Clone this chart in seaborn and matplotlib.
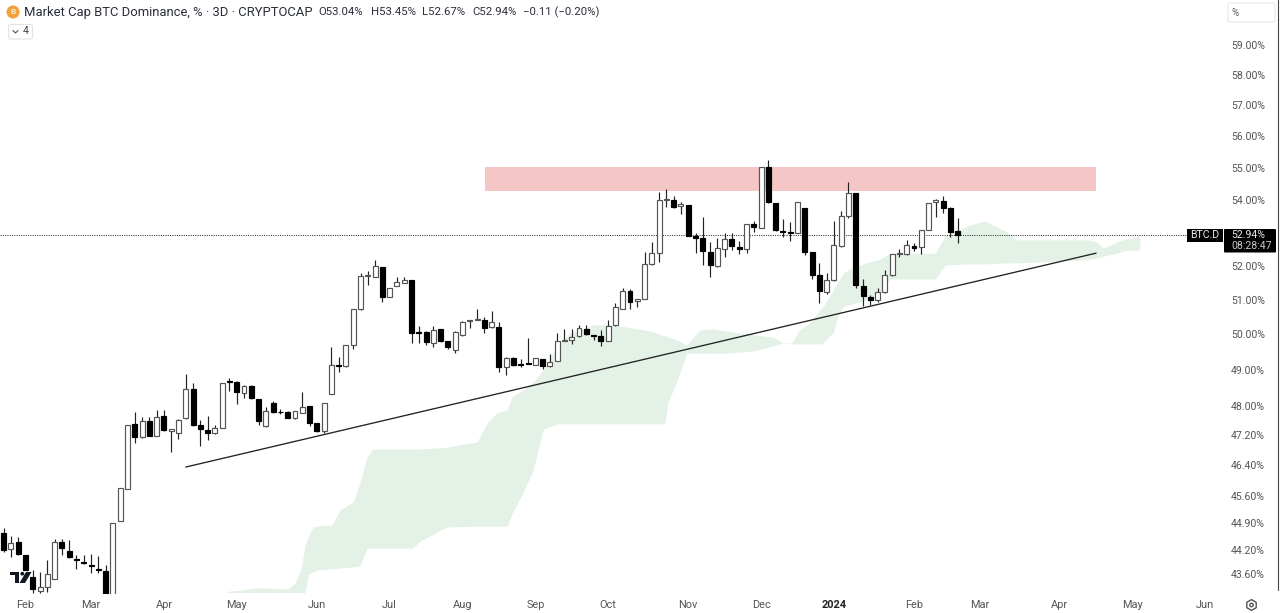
import matplotlib
matplotlib.use("Agg")
import matplotlib.pyplot as plt
import matplotlib.transforms as mtrans
from matplotlib.patches import Rectangle, FancyBboxPatch, Circle, RegularPolygon, Polygon
from matplotlib.ticker import NullLocator, FixedLocator, FixedFormatter
import numpy as np
import pandas as pd
import seaborn as sns

opens = [44.63,44.24,44.40,44.07,43.53,43.19,43.27,43.47,44.40,44.17,43.98,43.89,43.83,43.72,43.67,42.96,44.93,45.76,47.51,47.14,47.59,47.19,47.72,47.32,47.25,
         47.66,48.46,47.48,47.33,47.25,47.41,48.68,48.67,48.36,48.55,48.19,47.45,48.07,47.84,47.84,47.66,47.81,47.99,47.52,47.31,48.33,49.14,49.11,49.71,50.72,
         51.69,51.68,51.98,51.07,51.41,51.50,51.58,50.07,50.07,49.77,50.15,49.80,49.57,49.99,50.38,50.43,50.43,50.22,50.21,49.09,49.33,49.16,49.19,49.14,49.30,
         49.11,49.26,49.82,49.84,49.96,50.16,49.99,49.96,49.81,50.26,50.74,51.25,50.97,51.03,52.05,52.37,53.99,53.99,53.81,53.84,52.90,52.83,52.42,52.00,52.51,
         52.80,52.57,52.51,53.25,53.15,55.01,53.91,53.05,53.03,53.00,53.75,52.41,51.72,51.24,51.58,52.59,53.50,54.20,51.41,51.09,50.99,51.24,51.72,52.34,52.35,
         52.59,52.55,53.07,53.94,53.98,53.75,53.04]
highs = [44.77,44.57,44.54,44.07,43.70,43.66,43.95,44.47,44.48,44.46,44.08,44.08,44.10,44.04,43.83,44.90,45.79,47.47,47.84,47.69,47.69,47.89,47.89,47.38,47.63,
         48.88,48.64,47.61,47.72,47.48,48.64,48.76,48.69,48.58,48.57,48.20,47.98,48.14,47.91,47.86,47.86,48.37,48.01,47.54,48.09,49.65,49.37,49.71,50.74,51.80,
         51.86,52.18,51.98,51.36,51.66,51.66,51.58,50.24,50.10,50.24,50.15,49.80,50.10,50.38,50.43,50.73,50.51,50.68,50.37,49.35,49.35,49.29,49.89,49.32,49.31,
         49.45,50.03,50.15,50.16,50.27,50.27,49.99,50.13,50.42,50.90,51.36,51.31,51.02,52.42,52.71,54.23,54.33,54.12,53.94,53.84,52.98,53.48,52.71,52.83,53.00,
         52.98,52.75,53.26,53.35,55.01,55.25,53.91,53.40,53.33,53.92,53.75,52.41,52.08,51.78,53.36,53.66,54.54,54.20,51.60,51.14,51.36,51.88,52.35,52.49,52.78,
         52.69,53.08,53.91,54.02,54.13,53.77,53.45]
lows = [44.16,44.02,44.08,43.70,43.12,43.12,43.16,43.47,44.08,43.99,43.72,43.85,43.62,43.62,42.96,42.96,44.93,45.76,47.00,47.12,47.18,47.18,47.32,46.76,47.09,
        47.65,47.46,46.91,47.07,47.24,47.41,48.42,48.04,48.21,48.19,47.48,47.43,47.80,47.77,47.66,47.65,47.80,47.46,47.30,47.25,48.33,48.93,49.09,49.59,50.70,
        51.43,51.68,50.93,51.07,51.41,51.48,49.75,49.75,49.70,49.65,49.79,49.58,49.48,49.97,50.20,50.42,50.03,50.20,48.95,48.85,49.11,49.09,49.17,49.14,49.01,
        49.09,49.24,49.80,49.73,49.94,49.99,49.84,49.68,49.80,50.24,50.72,50.74,50.78,51.02,52.03,52.11,53.77,53.76,53.57,52.90,52.37,52.03,51.68,51.98,52.27,
        52.47,52.35,52.39,53.03,53.15,53.91,53.06,52.88,52.76,53.00,52.31,51.60,50.92,51.16,51.56,52.57,53.45,51.36,50.82,50.85,50.95,51.19,51.70,52.27,52.33,
        52.44,52.35,53.07,53.48,53.59,52.86,52.67]
closes = [44.20,44.39,44.10,43.70,43.22,43.27,43.60,44.40,44.25,44.03,43.95,43.87,43.80,43.69,42.96,44.90,45.79,47.47,47.14,47.59,47.19,47.70,47.34,47.38,47.61,
          48.47,47.48,47.36,47.25,47.39,48.64,48.66,48.38,48.56,48.21,47.60,47.86,47.82,47.82,47.68,47.86,47.98,47.54,47.31,48.07,49.14,49.11,49.69,50.72,51.69,
          51.72,52.00,51.09,51.36,51.51,51.58,50.03,50.04,49.79,50.13,49.80,49.63,50.06,50.36,50.43,50.44,50.20,50.35,49.07,49.33,49.14,49.14,49.17,49.32,49.11,
          49.23,49.81,49.84,49.94,50.18,50.00,49.96,49.82,50.25,50.78,51.25,50.95,51.02,52.05,52.37,53.99,54.02,53.77,53.87,52.90,52.85,52.44,52.02,52.52,52.80,
          52.59,52.51,53.26,53.16,55.01,53.92,53.07,53.01,53.00,53.92,52.42,51.72,51.27,51.58,52.63,53.51,54.22,51.43,51.11,51.01,51.23,51.72,52.35,52.37,52.62,
          52.54,53.08,53.91,54.00,53.76,53.03,52.94]

cloud_bar = [30.7,32.5,34.8,39.0,40.0,40.8,41.4,41.8,42.5,43.0,45.1,46.2,48.0,48.9,49.9,50.7,56.1,57.2,59.5,60.9,65.0,66.4,67.7,69.1,69.9,71.3,72.7,74.1,76.0,77.8,80.9,83.7,85.6,88.7,90.8,91.2,92.5,93.8,95.6,97.4,99.3,101.1,102.9,105.6,107.0,108.2,109.3,110.7,112.1,112.5,113.9,114.5,115.3,116.5,118.5,120.3,121.0,121.7,127.9,129.3,132.7,134.7,137.8,139.1,142.7,148.8,150.1,151.0,152.9,154.2,156.0]
cloud_top = [43.17,43.20,43.26,43.23,43.38,43.70,44.33,44.53,44.79,44.81,44.84,45.23,45.43,45.93,46.62,46.83,46.83,46.83,46.86,46.88,47.02,47.53,47.81,47.89,48.27,48.44,48.66,48.99,49.70,50.04,50.27,50.27,50.21,50.10,49.96,49.93,49.84,49.70,50.13,50.16,50.10,50.04,49.99,49.93,49.76,49.76,50.13,50.33,50.71,50.80,51.29,51.50,51.79,51.94,52.09,52.20,52.28,52.38,52.38,52.90,53.23,53.35,53.02,52.78,52.78,52.78,52.72,52.53,52.72,52.81,52.90]
cloud_bottom = [43.14,43.14,43.14,43.14,43.14,43.14,43.14,43.58,43.65,43.70,43.73,43.75,43.78,43.80,44.25,44.25,44.25,44.43,44.66,44.79,44.81,44.81,44.81,44.81,45.17,45.67,46.27,47.37,47.51,47.51,47.51,47.51,47.51,47.51,47.51,48.08,48.72,49.47,49.47,49.47,49.47,49.50,49.53,49.67,49.76,49.73,49.73,49.73,49.73,49.76,50.05,50.50,50.82,50.88,51.00,51.14,51.44,51.61,51.61,52.03,52.06,52.06,52.09,52.09,52.12,52.18,52.24,52.29,52.38,52.47,52.47]

trend_bar = [25.0, 150.0]
trend_price = [46.35, 52.38]
zone_bar = [66.1, 150.0]
zone_low, zone_high = 54.27, 55.02
last_price = 52.94
month_bars = [3,12,22,32,43,53,63,73,83,94,104,114,125,134,145,155,165]
month_names = ["Feb","Mar","Apr","May","Jun","Jul","Aug","Sep","Oct","Nov","Dec","2024","Feb","Mar","Apr","May","Jun"]
price_ticks = [59,58,57,56,55,54,52,51,50,49,48,47.2,46.4,45.6,44.9,44.2,43.6]

sns.set_theme(style="white")
plt.rcParams['font.family'] = ['Roboto', 'DejaVu Sans']

W, H = 1280, 613
AX_R, AX_B = 1225, 594
fig = plt.figure(figsize=(W/100, H/100), dpi=100, facecolor="white")
ax = fig.add_axes([0, 1-AX_B/H, AX_R/W, AX_B/H])
px = mtrans.Affine2D().scale(1/W, -1/H).translate(0, 1) + fig.transFigure

df = pd.DataFrame({"o": opens, "h": highs, "l": lows, "c": closes})
df["bar"] = np.arange(len(df))
df["up"] = df.c >= df.o

ax.set_yscale("log")
ax.set_xlim(-0.504, 167.7)
ax.set_ylim(43.105, 60.538)

ax.fill_between(cloud_bar, cloud_bottom, cloud_top, color="#e4f1e6", lw=0, zorder=1)
ax.fill_between(zone_bar, zone_low, zone_high, color="#f5c6c6", lw=0, zorder=1)
ax.hlines(last_price, -0.504, 162.5, color="#333333", lw=0.75, linestyles=(0, (1, 1.2)), zorder=2)
sns.lineplot(x=trend_bar, y=trend_price, ax=ax, color="#222222", lw=0.95, zorder=3, legend=False)

ax.vlines(df.bar, df.l, df.h, color="#222222", lw=0.85, zorder=4)
body_w = 0.68
low_body = df[["o", "c"]].min(axis=1)
high_body = df[["o", "c"]].max(axis=1)
for up, face, edge in ((True, "white", "#555555"), (False, "black", "black")):
    m = df.up == up
    ax.bar(df.bar[m], (high_body - low_body)[m].clip(lower=0.02), bottom=low_body[m], width=body_w,
           color=face, edgecolor=edge, linewidth=0.85, zorder=5)

for s in ax.spines.values():
    s.set_visible(False)
ax.set_xlabel(""); ax.set_ylabel("")
ax.yaxis.tick_right()
ax.yaxis.set_major_locator(FixedLocator(price_ticks))
ax.yaxis.set_major_formatter(FixedFormatter(["%.2f%%" % p for p in price_ticks]))
ax.yaxis.set_minor_locator(NullLocator())
ax.xaxis.set_major_locator(FixedLocator(month_bars))
ax.xaxis.set_major_formatter(FixedFormatter(month_names))
ax.tick_params(axis="y", length=0, pad=4.2, labelsize=7.6, labelcolor="#555555")
ax.tick_params(axis="x", length=0, pad=4.6, labelsize=7.9, labelcolor="#555555")
for t in ax.get_xticklabels():
    if t.get_text() == "2024":
        t.set_fontweight("bold"); t.set_color("#222222")

def txt(x, y, s, size=9.6, color="#2a2e39", ha="left", **kw):
    fig.text(x, y, s, transform=px, fontsize=size, color=color, ha=ha, va="center", **kw)

# header
fig.add_artist(Circle((13, 12), 6.5, transform=px, color="#f0a23c", lw=0))
txt(13, 12, "B", size=6, color="#fde9c9", ha="center", fontweight="bold")
txt(24, 12.2, "Market Cap BTC Dominance, % · 3D · CRYPTOCAP", size=9.35)
for x, s in ((318, "O53.04%"), (371, "H53.45%"), (422, "L52.67%"), (472, "C52.94%"), (523, "−0.11 (−0.20%)")):
    txt(x, 12.2, s, size=8.2)
fig.add_artist(FancyBboxPatch((8.5, 24.5), 24, 14.5, boxstyle="round,pad=0,rounding_size=2", transform=px,
                              fc="white", ec="#e0e3eb", lw=0.8))
fig.add_artist(plt.Line2D([13, 15.5, 18], [30.5, 33, 30.5], transform=px, color="#555555", lw=0.8))
txt(23, 31.5, "4", size=7.5, color="#444444")

# scale-mode box, last-price labels, frame, gear
fig.add_artist(FancyBboxPatch((1228, 3), 47, 19, boxstyle="round,pad=0,rounding_size=2", transform=px,
                              fc="white", ec="#e6e6e6", lw=0.8))
txt(1231, 13, "%", size=7, color="#555555")
fig.add_artist(Rectangle((1187, 229), 36, 12.5, transform=px, fc="black", ec="none"))
txt(1205, 235.3, "BTC.D", size=7.6, color="#e8e8e8", ha="center")
fig.add_artist(FancyBboxPatch((1224, 229), 52, 23.5, boxstyle="round,pad=0,rounding_size=1", transform=px,
                              fc="black", ec="none"))
txt(1231, 235.5, "52.94%", size=7.6, color="#e8e8e8")
txt(1231, 246.3, "08:28:47", size=7.6, color="#c8c8c8")
fig.add_artist(plt.Line2D([1278.3, 1278.3], [0, 590], transform=px, color="#444444", lw=0.8))
fig.add_artist(RegularPolygon((1251.5, 605), 6, radius=5.4, transform=px, fc="none", ec="#444444", lw=0.9))
fig.add_artist(Circle((1251.5, 605), 1.7, transform=px, fc="none", ec="#444444", lw=0.9))

# chart-library watermark
fig.add_artist(Rectangle((10, 572), 9, 3.2, transform=px, fc="#131722", ec="none"))
fig.add_artist(Rectangle((14.5, 575), 4.5, 8, transform=px, fc="#131722", ec="none"))
fig.add_artist(Circle((22.3, 573.7), 1.9, transform=px, fc="#131722", ec="none"))
fig.add_artist(Polygon([(26, 572), (31.5, 572), (25, 583), (19.5, 583)], transform=px, fc="#131722", ec="none"))

fig.savefig("out.png", dpi=100, facecolor="white")
